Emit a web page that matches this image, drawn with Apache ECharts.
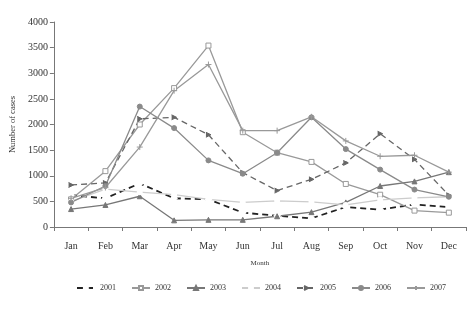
<!DOCTYPE html>
<html><head><meta charset="utf-8">
<script src="https://cdn.jsdelivr.net/npm/echarts@6/dist/echarts.min.js"></script>
<style>html,body{margin:0;padding:0;background:#fff}#c{width:474px;height:309px}</style>
</head><body><div id="c"></div>
<script>
const months = ['Jan','Feb','Mar','Apr','May','Jun','Jul','Aug','Sep','Oct','Nov','Dec'];
const yTicks = [0,500,1000,1500,2000,2500,3000,3500,4000];
const y2001 = [620,560,850,560,540,280,220,170,390,340,440,390];
const y2002 = [540,1090,2000,2710,3540,1850,1450,1270,840,630,320,280];
const y2003 = [350,430,600,130,140,140,210,290,480,800,890,1070];
const y2004 = [500,740,680,630,540,480,510,490,430,530,570,590];
const y2005 = [820,860,2110,2140,1800,1060,710,930,1250,1820,1320,620];
const y2006 = [480,800,2350,1930,1300,1040,1450,2140,1520,1120,730,590];
const y2007 = [560,770,1560,2660,3170,1880,1880,2150,1680,1380,1400,1070];

const serif = 'Liberation Serif';
function mk(name, data, color, symbol, size, dashed, fill, width) {
  return {
    name, type: 'line', data, symbol, symbolSize: size,
    lineStyle: {color, width: width || 1.3, type: dashed ? [6,4] : 'solid'},
    itemStyle: {color: fill || color, borderColor: color, borderWidth: 1},
    emphasis: {disabled: true}, animation: false
  };
}
const plus = 'path://M0,5L10,5M5,0L5,10';
const xmark = 'path://M0,3L10,5L0,7';
const chart = echarts.init(document.getElementById('c'));
chart.setOption({
  animation: false,
  textStyle: {fontFamily: serif},
  grid: {left: 52, right: 8, top: 22, bottom: 82, containLabel: false},
  xAxis: {
    type: 'category', data: months, boundaryGap: true,
    name: 'Month', nameLocation: 'middle', nameGap: 33,
    nameTextStyle: {fontFamily: serif, fontSize: 7, color: '#333'},
    axisLine: {lineStyle: {color: '#777'}},
    axisTick: {show: true, length: 4, lineStyle: {color: '#777'}},
    axisLabel: {fontFamily: serif, fontSize: 10, color: '#333', margin: 14}
  },
  yAxis: {
    type: 'value', min: yTicks[0], max: yTicks[yTicks.length-1], interval: 500,
    name: 'Number of cases', nameLocation: 'middle', nameGap: 36, nameRotate: 90,
    nameTextStyle: {fontFamily: serif, fontSize: 8.5, color: '#333'},
    splitLine: {show: false},
    axisLine: {show: true, lineStyle: {color: '#777'}},
    axisTick: {show: true, length: 4, inside: false, lineStyle: {color: '#777'}},
    axisLabel: {fontFamily: serif, fontSize: 10, color: '#333', margin: 6, formatter: v => String(v)}
  },
  legend: {
    bottom: 17, left: 76, width: 395, padding: 0, itemWidth: 18, itemHeight: 5, itemGap: 15,
    textStyle: {fontFamily: serif, fontSize: 8, color: '#333'},
    data: ['2001','2002','2003','2004','2005','2006','2007']
  },
  series: [
    mk('2001', y2001, '#222', 'emptyDiamond', 5, true, '#fff', 1.8),
    mk('2002', y2002, '#999', 'rect', 5, false, '#fff'),
    mk('2003', y2003, '#777', 'triangle', 5, false),
    mk('2004', y2004, '#ccc', 'emptyCircle', 4, false, '#fff'),
    mk('2005', y2005, '#666', xmark, 5, true),
    mk('2006', y2006, '#8a8a8a', 'circle', 5, false),
    mk('2007', y2007, '#999', plus, 6, false)
  ]
});
</script></body></html>
